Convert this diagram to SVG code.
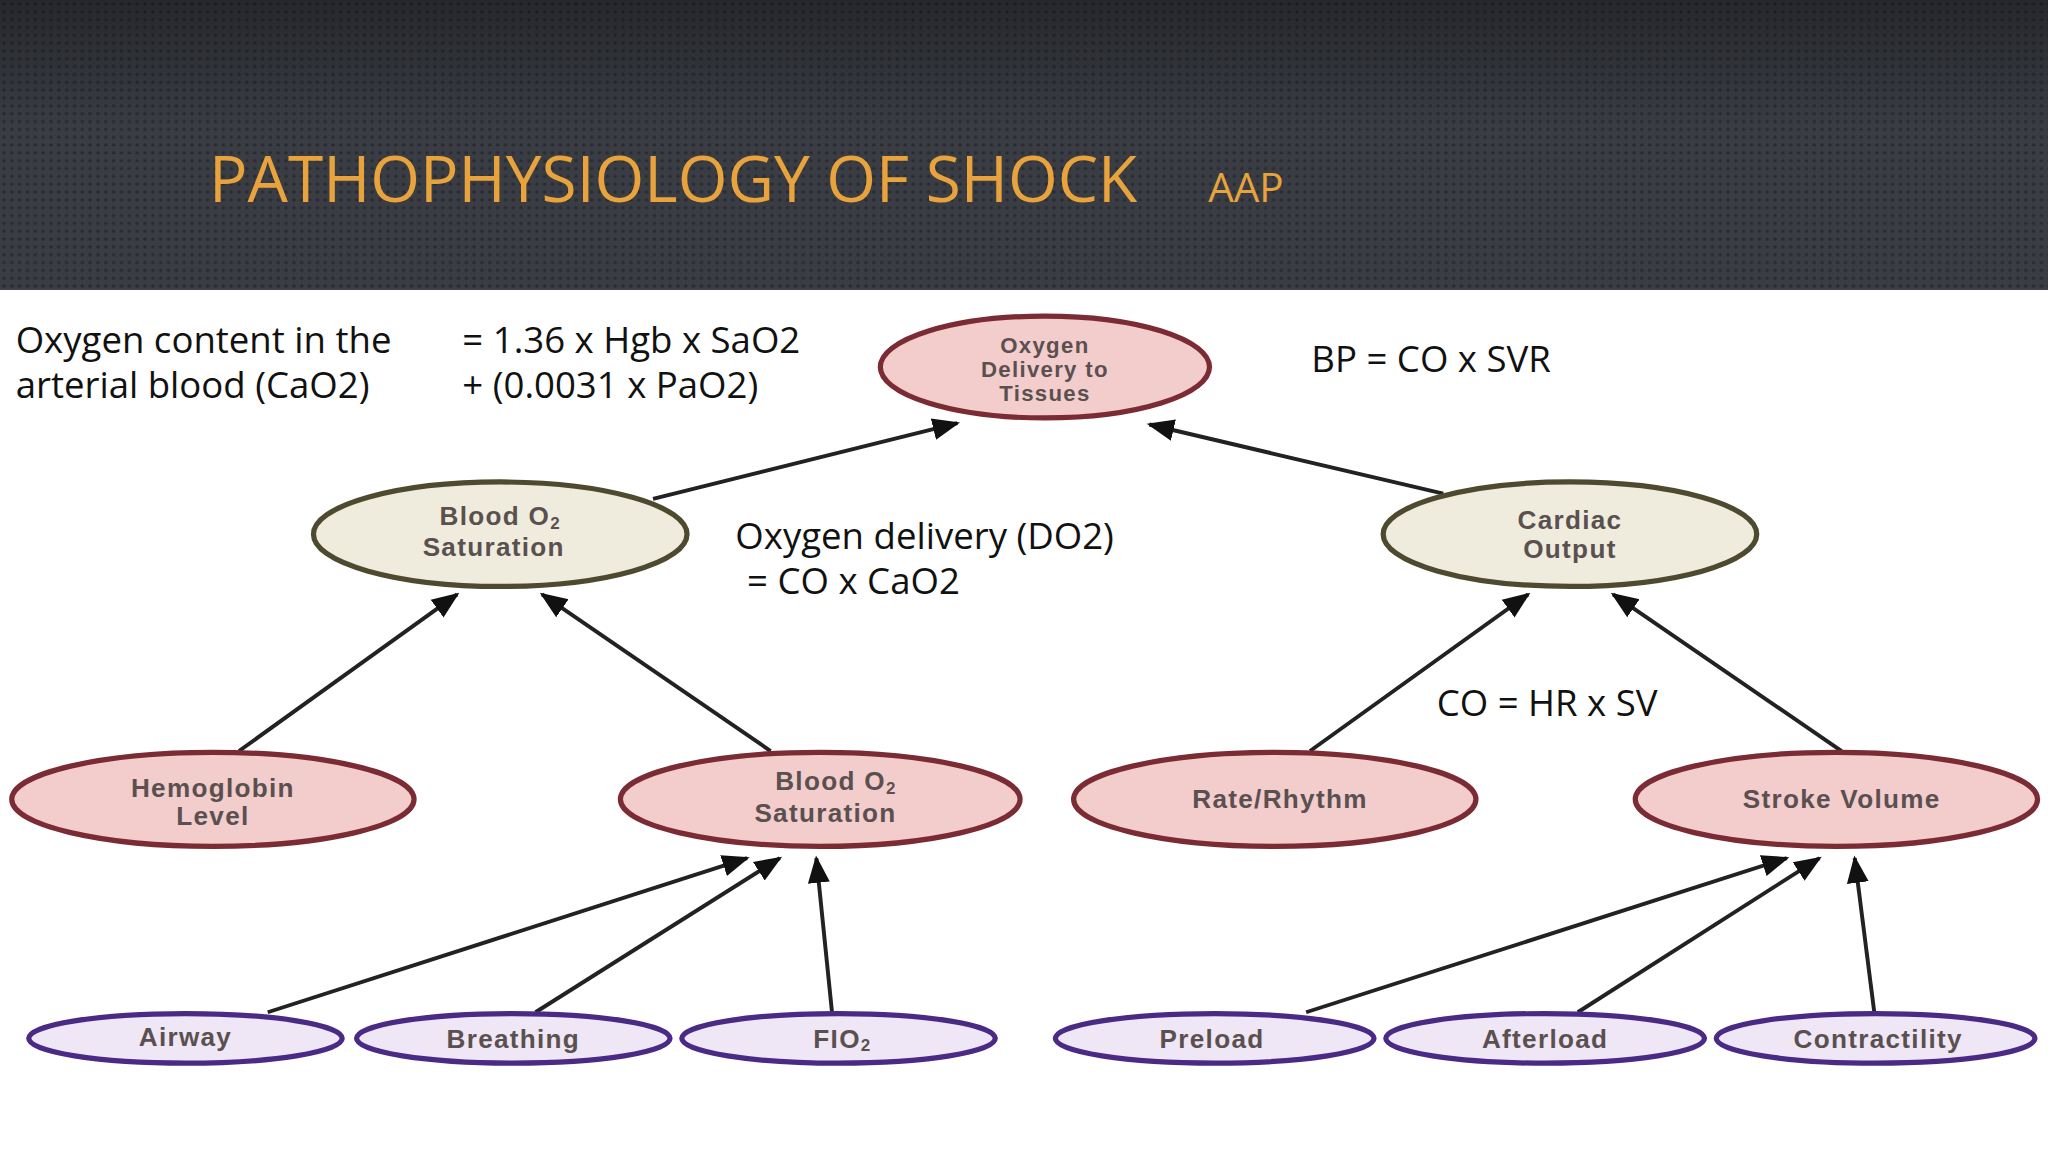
<svg xmlns="http://www.w3.org/2000/svg" width="2048" height="1152" viewBox="0 0 2048 1152">
<defs>
<pattern id="dots" width="6" height="6" patternUnits="userSpaceOnUse"><rect width="6" height="6" fill="#3a3d44"/><circle cx="3" cy="3" r="1.4" fill="#2a2c31"/></pattern>
<linearGradient id="hg" x1="0" y1="0" x2="0" y2="1"><stop offset="0" stop-color="#000" stop-opacity="0.35"/><stop offset="1" stop-color="#000" stop-opacity="0"/></linearGradient>
<marker id="ah" viewBox="0 0 10 10" refX="9" refY="5" markerWidth="7" markerHeight="7" orient="auto"><path d="M0,1 L10,5 L0,9 z" fill="#111"/></marker>
</defs>
<style>
.pk{fill:#f3cccc;stroke:#7a2b33;stroke-width:4}
.bg{fill:#efecdd;stroke:#4d4a30;stroke-width:4}
.pu{fill:#efe6f6;stroke:#4a2a85;stroke-width:4}
.nl{font-family:"Liberation Sans",Arial,sans-serif;font-weight:bold;font-size:20px;letter-spacing:1px;fill:#5a5050;text-anchor:middle}
.sm{font-size:17px}
.ft{font-family:"Open Sans","Noto Sans",sans-serif;font-size:28px;fill:#111}
.c line{stroke:#222;stroke-width:3;marker-end:url(#ah)}
</style>
<rect width="2048" height="1152" fill="#fff"/>
<g transform="scale(1.30612)">
<rect width="1568" height="222" fill="url(#dots)"/>
<rect width="1568" height="100" fill="url(#hg)"/>
<text x="160" y="155" font-family="Open Sans,Noto Sans,sans-serif" font-size="49" fill="#e8a33c">PATHOPHYSIOLOGY OF SHOCK</text>
<text x="925" y="155" font-family="Open Sans,Noto Sans,sans-serif" font-size="31" fill="#e8a33c">AAP</text>
<text class="ft" x="12" y="270">Oxygen content in the</text>
<text class="ft" x="12" y="305">arterial blood (CaO2)</text>
<text class="ft" x="354" y="270">= 1.36 x Hgb x SaO2</text>
<text class="ft" x="354" y="305">+ (0.0031 x PaO2)</text>
<text class="ft" x="1004" y="285">BP = CO x SVR</text>
<text class="ft" x="563" y="420">Oxygen delivery (DO2)</text>
<text class="ft" x="572" y="455">= CO x CaO2</text>
<text class="ft" x="1100" y="548">CO = HR x SV</text>
<g class="c">
<line x1="500" y1="382" x2="733" y2="324"/>
<line x1="1105" y1="378" x2="880" y2="325"/>
<line x1="183" y1="575" x2="350" y2="455"/>
<line x1="590" y1="575" x2="415" y2="455"/>
<line x1="1003" y1="575" x2="1170" y2="455"/>
<line x1="1410" y1="575" x2="1235" y2="455"/>
<line x1="205" y1="775" x2="572" y2="657"/>
<line x1="410" y1="775" x2="597" y2="657"/>
<line x1="637" y1="775" x2="625" y2="657"/>
<line x1="1000" y1="775" x2="1368" y2="657"/>
<line x1="1208" y1="775" x2="1393" y2="657"/>
<line x1="1435" y1="775" x2="1420" y2="657"/>
</g>
<g id="n_o2d"><ellipse class="pk" cx="800" cy="281" rx="126" ry="39"/><text class="nl sm" x="800" y="270">Oxygen</text><text class="nl sm" x="800" y="289">Delivery to</text><text class="nl sm" x="800" y="307">Tissues</text></g>
<g id="n_bo2a"><ellipse class="bg" cx="383" cy="409" rx="143" ry="40"/><text class="nl" x="383" y="402">Blood O<tspan font-size="13" dy="3">2</tspan></text><text class="nl" x="378" y="426">Saturation</text></g>
<g id="n_co"><ellipse class="bg" cx="1202" cy="409" rx="143" ry="40"/><text class="nl" x="1202" y="405">Cardiac</text><text class="nl" x="1202" y="427">Output</text></g>
<g id="n_hgb"><ellipse class="pk" cx="163" cy="612" rx="154" ry="36"/><text class="nl" x="163" y="610">Hemoglobin</text><text class="nl" x="163" y="632">Level</text></g>
<g id="n_bo2b"><ellipse class="pk" cx="628" cy="612" rx="153" ry="36"/><text class="nl" x="640" y="605">Blood O<tspan font-size="13" dy="3">2</tspan></text><text class="nl" x="632" y="629">Saturation</text></g>
<g id="n_rr"><ellipse class="pk" cx="976" cy="612" rx="154" ry="36"/><text class="nl" x="980" y="619">Rate/Rhythm</text></g>
<g id="n_sv"><ellipse class="pk" cx="1406" cy="612" rx="154" ry="36"/><text class="nl" x="1410" y="619">Stroke Volume</text></g>
<g id="n_air"><ellipse class="pu" cx="142" cy="795" rx="120" ry="19"/><text class="nl" x="142" y="801">Airway</text></g>
<g id="n_br"><ellipse class="pu" cx="393" cy="795" rx="120" ry="19"/><text class="nl" x="393" y="802">Breathing</text></g>
<g id="n_fio2"><ellipse class="pu" cx="642" cy="795" rx="120" ry="19"/><text class="nl" x="645" y="802">FIO<tspan font-size="13" dy="3">2</tspan></text></g>
<g id="n_pre"><ellipse class="pu" cx="930" cy="795" rx="122" ry="19"/><text class="nl" x="928" y="802">Preload</text></g>
<g id="n_aft"><ellipse class="pu" cx="1183" cy="795" rx="122" ry="19"/><text class="nl" x="1183" y="802">Afterload</text></g>
<g id="n_con"><ellipse class="pu" cx="1436" cy="795" rx="122" ry="19"/><text class="nl" x="1438" y="802">Contractility</text></g>
</g>
</svg>
